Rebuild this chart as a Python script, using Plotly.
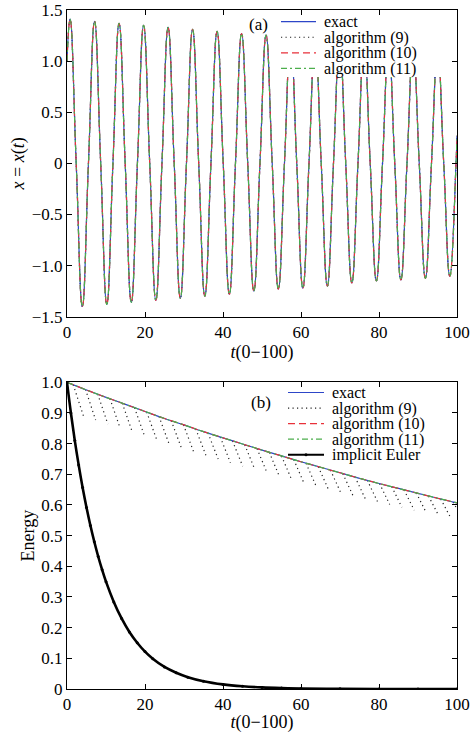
import plotly.graph_objects as go

# ---------------- panel (a): x = x(t) ----------------
t_start = [0.0]
x_start = [1.0]
t_peak = [0.79, 7.07, 13.35, 19.64, 25.92, 32.20, 38.48, 44.77, 51.05, 57.33,
          63.62, 69.90, 76.18, 82.47, 88.75, 95.03]
x_peak = [1.41, 1.39, 1.37, 1.35, 1.33, 1.31, 1.29, 1.27, 1.255, 1.235,
          1.215, 1.195, 1.18, 1.16, 1.14, 1.125]
t_trough = [3.93, 10.21, 16.49, 22.78, 29.06, 35.34, 41.63, 47.91, 54.19, 60.48,
            66.76, 73.04, 79.33, 85.61, 91.89, 98.17]
x_trough = [-1.40, -1.38, -1.36, -1.34, -1.32, -1.30, -1.28, -1.25, -1.23, -1.22,
            -1.20, -1.17, -1.15, -1.14, -1.125, -1.105]
t_zero = [2.36, 5.50, 8.64, 11.78, 14.92, 18.06, 21.21, 24.35, 27.49, 30.63,
          33.77, 36.91, 40.06, 43.20, 46.34, 49.48, 52.62, 55.76, 58.91, 62.05,
          65.19, 68.33, 71.47, 74.61, 77.75, 80.90, 84.04, 87.18, 90.32, 93.46,
          96.60, 99.75]
t_end = [100.0]
x_end = [0.27]

# ---------------- panel (b): energy ----------------
t_energy = [0, 5, 10, 15, 20, 25, 30, 35, 40, 45, 50, 55, 60, 65, 70, 75, 80, 85, 90, 95, 100]
e_exact = [1.0, 0.975, 0.951, 0.928, 0.905, 0.882, 0.861, 0.839, 0.819, 0.799, 0.779,
           0.760, 0.741, 0.723, 0.705, 0.687, 0.670, 0.654, 0.638, 0.622, 0.607]

# algorithm (9): dotted streaks, each from the upper curve down to the lower envelope
t9_top = [1.60, 4.74, 7.88, 11.02, 14.17, 17.31, 20.45, 23.59, 26.73, 29.87, 33.02,
          36.16, 39.30, 42.44, 45.58, 48.72, 51.87, 55.01, 58.15, 61.29, 64.43, 67.57,
          70.72, 73.86, 77.00, 80.14, 83.28, 86.42, 89.56, 92.71, 95.85, 98.99]
e9_top = [0.9920, 0.9766, 0.9614, 0.9464, 0.9316, 0.9171, 0.9028, 0.8888, 0.8749, 0.8613,
          0.8478, 0.8346, 0.8216, 0.8088, 0.7962, 0.7838, 0.7715, 0.7595, 0.7477, 0.7360,
          0.7246, 0.7133, 0.7021, 0.6912, 0.6805, 0.6699, 0.6594, 0.6491, 0.6390, 0.6290,
          0.6192, 0.6096]
t9_bot = [4.20, 7.34, 10.48, 13.62, 16.77, 19.91, 23.05, 26.19, 29.33, 32.47, 35.62,
          38.76, 41.90, 45.04, 48.18, 51.32, 54.47, 57.61, 60.75, 63.89, 67.03, 70.17,
          73.32, 76.46, 79.60, 82.74, 85.88, 89.02, 92.16, 95.31, 98.45, 100.0]
e9_bot = [0.8911, 0.8772, 0.8635, 0.8501, 0.8368, 0.8238, 0.8109, 0.7983, 0.7859, 0.7736,
          0.7616, 0.7497, 0.7380, 0.7265, 0.7152, 0.7040, 0.6931, 0.6822, 0.6716, 0.6611,
          0.6508, 0.6407, 0.6307, 0.6209, 0.6112, 0.6017, 0.5923, 0.5831, 0.5740, 0.5650,
          0.5563, 0.587]

t_euler = [0, 1, 2, 3, 4, 5, 6, 7, 8, 9, 10, 12, 14, 16, 18, 20, 22, 25, 28, 31, 35,
           40, 45, 50, 55, 60, 70, 80, 90, 100]
e_euler = [1.0, 0.90, 0.81, 0.73, 0.657, 0.592, 0.533, 0.480, 0.432, 0.389, 0.350,
           0.284, 0.230, 0.186, 0.151, 0.122, 0.099, 0.072, 0.053, 0.0386, 0.0253,
           0.015, 0.0089, 0.0052, 0.0031, 0.0018, 0.0006, 0.0002, 0.0001, 0.0]

x_ticks = [0, 20, 40, 60, 80, 100]
y1_ticks = [-1.5, -1.0, -0.5, 0, 0.5, 1.0, 1.5]
y1_text = ["\u22121.5", "\u22121.0", "\u22120.5", "0", "0.5", "1.0", "1.5"]
y2_ticks = [0, 0.1, 0.2, 0.3, 0.4, 0.5, 0.6, 0.7, 0.8, 0.9, 1.0]
y2_text = ["0", "0.1", "0.2", "0.3", "0.4", "0.5", "0.6", "0.7", "0.8", "0.9", "1.0"]

legend_a = ["exact", "algorithm (9)", "algorithm (10)", "algorithm (11)"]
legend_b = ["exact", "algorithm (9)", "algorithm (10)", "algorithm (11)", "implicit Euler"]

BLUE = "#2d46c8"
RED = "#e8313a"
GREEN = "#4cae4c"
BLACK = "#000000"
FONT = "Liberation Serif"

# build panel (a) series (sorted union of read points)
pts = sorted(list(zip(t_start, x_start)) + list(zip(t_peak, x_peak)) +
             list(zip(t_trough, x_trough)) + [(t, 0.0) for t in t_zero] +
             list(zip(t_end, x_end)))
ta = [p[0] for p in pts]
xa = [p[1] for p in pts]

# build algorithm (9) streaks with gaps
t9, e9 = [], []
for a, b, c, d in zip(t9_top, e9_top, t9_bot, e9_bot):
    t9 += [a, c, None]
    e9 += [b, d, None]

fig = go.Figure()

styles = [
    dict(color="#222222", width=1.2, dash="1.2px,3.3px"),
    dict(color=BLUE, width=1.2),
    dict(color=RED, width=1.2, dash="7px,4px"),
    dict(color=GREEN, width=1.2, dash="6px,3px,2px,3px"),
]
names_order = ["algorithm (9)", "exact", "algorithm (10)", "algorithm (11)"]

for nm, st in zip(names_order, styles):
    fig.add_trace(go.Scatter(x=ta, y=xa, mode="lines", name=nm, showlegend=False,
                             line=dict(shape="spline", smoothing=1.3, **st),
                             xaxis="x", yaxis="y"))

fig.add_trace(go.Scatter(x=t9, y=e9, mode="lines", name="algorithm (9)", showlegend=False,
                         line=styles[0], xaxis="x2", yaxis="y2"))
for nm, st in zip(names_order[1:], styles[1:]):
    fig.add_trace(go.Scatter(x=t_energy, y=e_exact, mode="lines", name=nm, showlegend=False,
                             line=dict(shape="spline", **st), xaxis="x2", yaxis="y2"))
fig.add_trace(go.Scatter(x=t_euler, y=e_euler, mode="lines+markers", name="implicit Euler",
                         showlegend=False, line=dict(color=BLACK, width=2.6, shape="spline"),
                         marker=dict(size=3, color=BLACK), xaxis="x2", yaxis="y2"))

# ---------------- layout ----------------
W, H = 474, 733
ML, MR, MT, MB = 67, 17, 10, 44
PW, PH = W - ML - MR, H - MT - MB


def px_x(p):
    return (p - ML) / PW


def px_y(p):
    return (H - MB - p) / PH


axis_common = dict(showline=True, linecolor="black", linewidth=1, mirror="ticks",
                   ticks="inside", ticklen=5, tickcolor="black", showgrid=False,
                   zeroline=False, automargin=False,
                   tickfont=dict(family=FONT, size=17, color="black"))
title_font = dict(family=FONT, size=18, color="black")

fig.update_layout(
    width=W, height=H,
    margin=dict(l=ML, r=MR, t=MT, b=MB, autoexpand=False),
    paper_bgcolor="white", plot_bgcolor="white",
    showlegend=False,
    xaxis=dict(domain=[0, 1], range=[0, 100], anchor="y", tickvals=x_ticks,
               title=dict(text="<i>t</i>(0\u2212100)", font=title_font, standoff=4),
               **axis_common),
    yaxis=dict(domain=[px_y(316.7), 1], range=[-1.5, 1.5], anchor="x",
               tickvals=y1_ticks, ticktext=y1_text,
               title=dict(text="<i>x</i> = <i>x</i>(<i>t</i>)", font=title_font, standoff=2),
               **axis_common),
    xaxis2=dict(domain=[0, 1], range=[0, 100], anchor="y2", tickvals=x_ticks,
                title=dict(text="<i>t</i>(0\u2212100)", font=title_font, standoff=4),
                **axis_common),
    yaxis2=dict(domain=[0, px_y(382.3)], range=[0, 1], anchor="x2",
                tickvals=y2_ticks, ticktext=y2_text,
                title=dict(text="Energy", font=title_font, standoff=2),
                **axis_common),
)

shapes = []
annotations = []


def legend_block(labels, line_styles, y_first, step, x_line0, x_line1, x_text, glyph):
    for i, st in enumerate(line_styles):
        yy = px_y(y_first + step * i)
        shapes.append(dict(type="line", xref="paper", yref="paper", x0=px_x(x_line0),
                           x1=px_x(x_line1), y0=yy, y1=yy, line=st, layer="above"))
    # one text block; base size sets the line pitch, span sets the glyph size
    base = step / 1.3
    txt = "<br>".join("<span style='font-size:%.1fpx'>%s</span>" % (glyph, lab) for lab in labels)
    yc = px_y(y_first + step * (len(labels) - 1) / 2.0)
    annotations.append(dict(text=txt, x=px_x(x_text), y=yc, xref="paper", yref="paper",
                            xanchor="left", yanchor="middle", align="left", showarrow=False,
                            font=dict(family=FONT, size=base, color="black")))


# legend (a)
shapes.append(dict(type="rect", xref="paper", yref="paper", x0=px_x(278), x1=px_x(449),
                   y0=px_y(77), y1=px_y(16), fillcolor="white", line=dict(width=0),
                   layer="above"))
legend_block(legend_a, [styles[1], styles[0], styles[2], styles[3]],
             21.7, 15.55, 281, 316, 321.5, 16)
annotations.append(dict(text="(a)", x=px_x(258), y=px_y(24.5), xref="paper", yref="paper",
                        xanchor="center", yanchor="middle", showarrow=False,
                        font=dict(family=FONT, size=17, color="black")))

# legend (b)
step_b = 15.55
legend_block(legend_b, [styles[1], styles[0], styles[2], styles[3], dict(color=BLACK, width=2)],
             392.5, step_b, 288, 324, 329.5, 16)
yy = px_y(392.5 + step_b * 4)
shapes.append(dict(type="circle", xref="paper", yref="paper", x0=px_x(304.5), x1=px_x(307.5),
                   y0=yy - 1.5 / PH, y1=yy + 1.5 / PH, fillcolor=BLACK, line=dict(width=0),
                   layer="above"))
annotations.append(dict(text="(b)", x=px_x(261), y=px_y(403), xref="paper", yref="paper",
                        xanchor="center", yanchor="middle", showarrow=False,
                        font=dict(family=FONT, size=17, color="black")))

fig.update_layout(shapes=shapes, annotations=annotations)
fig.write_html("out.html")
